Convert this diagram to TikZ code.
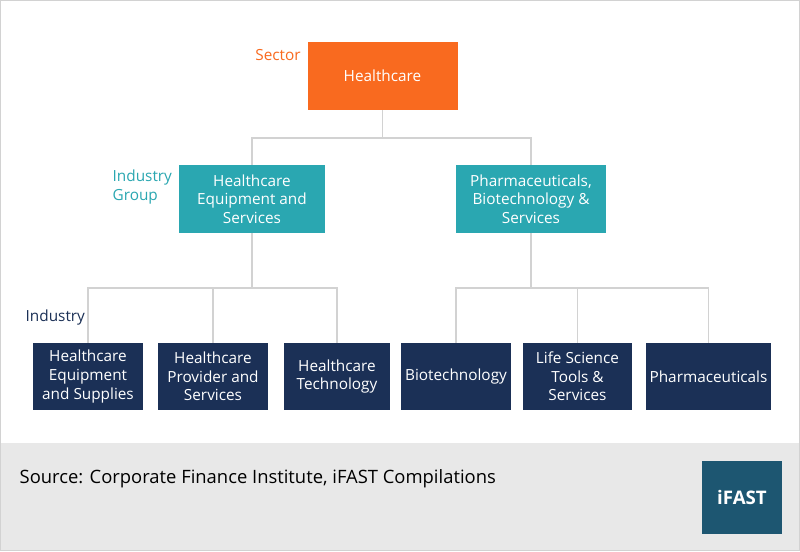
\documentclass[tikz,border=0pt]{standalone}
\usepackage{fontspec}
\setmainfont{Open Sans}
\definecolor{orng}{HTML}{F96A1F}
\definecolor{teal2}{HTML}{2AA7B1}
\definecolor{navy}{HTML}{1B3056}
\definecolor{ifast}{HTML}{1D5671}
\definecolor{band}{HTML}{E8E8E8}
\definecolor{ln}{HTML}{D2D2D2}
\begin{document}
\begin{tikzpicture}[x=0.75pt,y=-0.75pt,
  box/.style={draw=none,inner sep=0pt,align=center,text=white,font=\fontsize{11.5}{14}\selectfont},
  conn/.style={draw=ln,line width=1pt}]
\useasboundingbox (0,0) rectangle (800,551);
\fill[white] (0,0) rectangle (800,551);
\fill[band] (0,443) rectangle (800,551);
\draw[ln,line width=0.6pt] (0.5,0.5) rectangle (799.5,550.5);
% nodes
\node[box,fill=orng,minimum width=112.5pt,minimum height=51pt] (hc) at (382.5,76) {Healthcare};
\node[box,fill=teal2,minimum width=109.5pt,minimum height=51pt] (g1) at (252,199) {Healthcare\\Equipment and\\Services};
\node[box,fill=teal2,minimum width=112.5pt,minimum height=51pt] (g2) at (531,199) {Pharmaceuticals,\\Biotechnology \&\\Services};
\node[box,fill=navy,minimum width=82.5pt,minimum height=50pt] (i1) at (88,376.5) {Healthcare\\Equipment\\and Supplies};
\node[box,fill=navy,minimum width=82.5pt,minimum height=50pt] (i2) at (213,376.5) {Healthcare\\Provider and\\Services};
\node[box,fill=navy,minimum width=79.5pt,minimum height=50pt] (i3) at (337,376.5) {Healthcare\\Technology};
\node[box,fill=navy,minimum width=82.5pt,minimum height=50pt] (i4) at (456,376.5) {Biotechnology};
\node[box,fill=navy,minimum width=82pt,minimum height=50pt] (i5) at (577.5,376.5) {Life Science\\Tools \&\\Services};
\node[box,fill=navy,minimum width=94pt,minimum height=50pt] (i6) at (708.5,376.5) {Pharmaceuticals};
% labels
\node[text=orng,font=\fontsize{11.5}{14}\selectfont] (ls) at (278,55) {Sector};
\node[text=teal2,font=\fontsize{11.5}{14}\selectfont,align=left,anchor=west] (lg) at (108,187) {Industry\\Group};
\node[text=navy,font=\fontsize{11.5}{14}\selectfont,anchor=west] (li) at (21,318) {Industry};
\node[font=\fontsize{13.8}{16}\selectfont,anchor=west] (src) at (15,479) {Source: Corporate Finance Institute, iFAST Compilations};
\node[fill=ifast,text=white,font=\bfseries\fontsize{14}{16}\selectfont,minimum width=60pt,minimum height=55pt] (logo) at (742,497.5) {iFAST};
% connectors
\coordinate (j0) at (382.5,138);
\coordinate (j1) at (252,288);
\coordinate (j2) at (531,288);
\draw[conn] (hc.south) -- (j0);
\draw[conn] (j0) -| (g1.north);
\draw[conn] (j0) -| (g2.north);
\draw[conn] (g1.south) -- (j1);
\draw[conn] (j1) -| (i1.north);
\draw[conn] (j1) -| (i2.north);
\draw[conn] (j1) -| (i3.north);
\draw[conn] (g2.south) -- (j2);
\draw[conn] (j2) -| (i4.north);
\draw[conn] (j2) -| (i5.north);
\draw[conn] (j2) -| (i6.north);
\end{tikzpicture}
\end{document}
